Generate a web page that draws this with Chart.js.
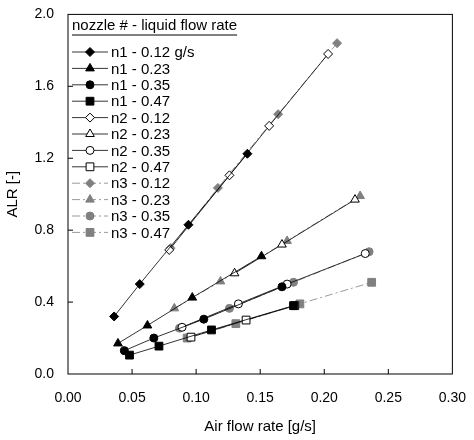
<!DOCTYPE html>
<html><head><script src="https://cdn.jsdelivr.net/npm/chart.js@4"></script>
<style>body{margin:0;background:#fff}#w{width:474px;height:440px}</style></head>
<body><div id="w"><canvas id="c"></canvas></div>
<script>
const labels=["n1 - 0.12 g/s","n1 - 0.23","n1 - 0.35","n1 - 0.47","n2 - 0.12","n2 - 0.23","n2 - 0.35","n2 - 0.47","n3 - 0.12","n3 - 0.23","n3 - 0.35","n3 - 0.47"];
const n1_012=[[0.036,0.32],[0.056,0.50],[0.094,0.83],[0.140,1.225]];
const n1_023=[[0.039,0.17],[0.062,0.27],[0.097,0.425],[0.151,0.655]];
const n1_035=[[0.044,0.13],[0.067,0.20],[0.106,0.305],[0.167,0.485]];
const n1_047=[[0.048,0.105],[0.071,0.155],[0.112,0.245],[0.176,0.38]];
const n2_012=[[0.079,0.69],[0.126,1.105],[0.157,1.38],[0.203,1.78]];
const n2_023=[[0.130,0.56],[0.167,0.72],[0.224,0.97]];
const n2_035=[[0.089,0.26],[0.133,0.39],[0.171,0.50],[0.232,0.67]];
const n2_047=[[0.096,0.205],[0.139,0.30],[0.177,0.38]];
const n3_012=[[0.080,0.70],[0.117,1.035],[0.164,1.445],[0.210,1.84]];
const n3_023=[[0.083,0.365],[0.119,0.515],[0.171,0.74],[0.228,0.99]];
const n3_035=[[0.087,0.255],[0.126,0.365],[0.176,0.51],[0.235,0.68]];
const n3_047=[[0.093,0.20],[0.131,0.28],[0.181,0.39],[0.237,0.51]];
const series=[n1_012,n1_023,n1_035,n1_047,n2_012,n2_023,n2_035,n2_047,n3_012,n3_023,n3_035,n3_047];
const shapes=['rectRot','triangle','circle','rect'];
const radii={rectRot:4.5,triangle:5,circle:4,rect:5.5};
const G='#808080';
const datasets=series.map((s,i)=>{const g=Math.floor(i/4),sh=shapes[i%4];
 const fill=g==0?'#000':g==1?'#fff':G, stroke=g==2?G:'#000';
 return {label:labels[i],data:s.map(p=>({x:p[0],y:p[1]})),showLine:true,borderColor:g==2?G:'#000',borderWidth:0.8,
 borderDash:g==2?[8,3,2,3]:[],pointStyle:sh,pointRadius:radii[sh],pointBackgroundColor:fill,pointBorderColor:stroke,pointBorderWidth:1};});
const deco={id:'deco',afterDraw(c){const x=c.scales.x,y=c.scales.y,ctx=c.ctx;ctx.save();
 ctx.strokeStyle='#000';ctx.lineWidth=1;ctx.strokeRect(c.chartArea.left,c.chartArea.top,c.chartArea.width,c.chartArea.height);
 ctx.beginPath();for(let v=0.05;v<0.3;v+=0.05){const px=x.getPixelForValue(v);ctx.moveTo(px,c.chartArea.bottom);ctx.lineTo(px,c.chartArea.bottom-5);}
 for(let v=0.4;v<2;v+=0.4){const py=y.getPixelForValue(v);ctx.moveTo(c.chartArea.left,py);ctx.lineTo(c.chartArea.left+5,py);}ctx.stroke();
 ctx.font='15px "Liberation Sans", Arial';ctx.fillStyle='#000';ctx.textBaseline='middle';
 ctx.fillText('nozzle # - liquid flow rate',72,26);const tw=ctx.measureText('nozzle # - liquid flow rate').width;
 ctx.beginPath();ctx.moveTo(72,35);ctx.lineTo(72+tw,35);ctx.stroke();
 c.data.datasets.forEach((d,i)=>{const yy=52+i*16.4;ctx.save();ctx.strokeStyle=d.borderColor;ctx.lineWidth=0.8;ctx.setLineDash(d.borderDash);
  ctx.beginPath();ctx.moveTo(72,yy);ctx.lineTo(108,yy);ctx.stroke();ctx.restore();
  ctx.fillStyle=d.pointBackgroundColor;ctx.strokeStyle=d.pointBorderColor;ctx.lineWidth=1;
  Chart.helpers.drawPoint(ctx,{pointStyle:d.pointStyle,radius:d.pointRadius,rotation:0,borderWidth:1},90,yy);
  ctx.fillStyle='#000';ctx.fillText(d.label,111,yy+1);});
 ctx.restore();}};
new Chart(document.getElementById('c'),{type:'scatter',data:{datasets},plugins:[deco],
 options:{responsive:true,maintainAspectRatio:false,animation:false,layout:{padding:{top:10,right:16}},
 plugins:{legend:{display:false},tooltip:{enabled:false}},
 scales:{x:{min:0,max:0.3,afterFit(s){s.height=66;},grid:{display:false},border:{display:false},
  ticks:{stepSize:0.05,color:'#000',font:{size:14,family:'"Liberation Sans", Arial'},callback:v=>v.toFixed(2),maxRotation:0,padding:8},
  title:{display:true,text:'Air flow rate [g/s]',color:'#000',font:{size:15,family:'"Liberation Sans", Arial'},padding:{top:6}}},
 y:{min:0,max:2,afterFit(s){s.width=68;},grid:{display:false},border:{display:false},
  ticks:{stepSize:0.4,color:'#000',font:{size:14,family:'"Liberation Sans", Arial'},callback:v=>v.toFixed(1),padding:6},
  title:{display:true,text:'ALR [-]',color:'#000',font:{size:15,family:'"Liberation Sans", Arial'},padding:{bottom:0}}}}}});
</script></body></html>
